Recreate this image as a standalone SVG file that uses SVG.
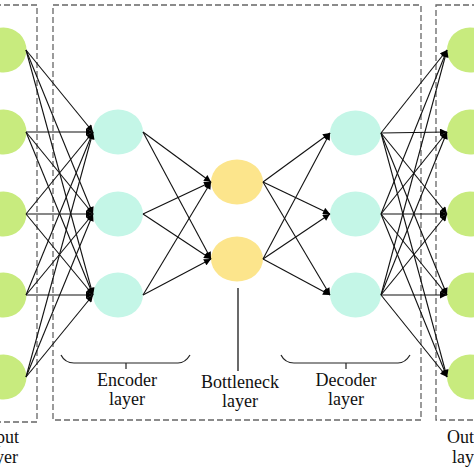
<svg xmlns="http://www.w3.org/2000/svg" width="474" height="474" viewBox="0 0 474 474">
<style>
.box{fill:none;stroke:#666;stroke-width:1.3;stroke-dasharray:6 3}
.in{fill:#c8eb7e}
.mid{fill:#c4f6e7}
.bot{fill:#fce58c}
.c line{stroke:#111;stroke-width:1.1;marker-end:url(#ah)}
.br{fill:none;stroke:#222;stroke-width:1.2}
text{font-family:"Liberation Serif","Times New Roman",serif;font-size:18px;fill:#111;text-anchor:middle}
</style>
<defs>
<marker id="ah" viewBox="0 0 10 10" refX="10" refY="5" markerWidth="8" markerHeight="7" markerUnits="userSpaceOnUse" orient="auto">
<path d="M0,0 L10,5 L0,10 z" fill="#000"/>
</marker>
</defs>
<rect width="474" height="474" fill="#fff"/>
<g id="frames">
<rect class="box" x="-5" y="5" width="42" height="417"/>
<rect class="box" x="53" y="5" width="368" height="415"/>
<rect class="box" x="436" y="5" width="45" height="415"/>
</g>
<g id="input-layer">
<ellipse class="in" cx="3.5" cy="50" rx="23" ry="22.5"/>
<ellipse class="in" cx="3.5" cy="132" rx="23" ry="22.5"/>
<ellipse class="in" cx="3.5" cy="214" rx="23" ry="22.5"/>
<ellipse class="in" cx="3.5" cy="295" rx="23" ry="22.5"/>
<ellipse class="in" cx="3.5" cy="377" rx="23" ry="22.5"/>
<text x="0" y="443">Input</text>
<text x="0" y="463">layer</text>
</g>
<g id="encoder-layer">
<ellipse class="mid" cx="118" cy="132" rx="25" ry="22.5"/>
<ellipse class="mid" cx="118" cy="214" rx="25" ry="22.5"/>
<ellipse class="mid" cx="118" cy="295" rx="25" ry="22.5"/>
<path class="br" d="M61,355 C64,361 68,363 74,363 L178,363 C184,363 187,360 190,355 M126,363 L126,369"/>
<text x="127" y="386">Encoder</text>
<text x="127" y="405">layer</text>
</g>
<g id="bottleneck-layer">
<ellipse class="bot" cx="237" cy="182" rx="26" ry="22.5"/>
<ellipse class="bot" cx="237" cy="259" rx="26" ry="22.5"/>
<line x1="238" y1="288" x2="238" y2="371" stroke="#444" stroke-width="1.6"/>
<text x="240" y="388">Bottleneck</text>
<text x="240" y="407">layer</text>
</g>
<g id="decoder-layer">
<ellipse class="mid" cx="355.5" cy="133" rx="25.5" ry="22.5"/>
<ellipse class="mid" cx="355.5" cy="214" rx="25.5" ry="22.5"/>
<ellipse class="mid" cx="355.5" cy="295" rx="25.5" ry="22.5"/>
<path class="br" d="M281,355 C284,361 288,363 294,363 L398,363 C404,363 407,360 410,355 M346,363 L346,369"/>
<text x="346" y="386">Decoder</text>
<text x="346" y="405">layer</text>
</g>
<g id="output-layer">
<ellipse class="in" cx="470" cy="50" rx="23" ry="22.5"/>
<ellipse class="in" cx="470" cy="132" rx="23" ry="22.5"/>
<ellipse class="in" cx="470" cy="214" rx="23" ry="22.5"/>
<ellipse class="in" cx="470" cy="295" rx="23" ry="22.5"/>
<ellipse class="in" cx="470" cy="377" rx="23" ry="22.5"/>
<text x="472" y="443">Output</text>
<text x="470" y="463">layer</text>
</g>
<g id="connectors" class="c">
<line x1="26" y1="50" x2="93" y2="132"/><line x1="26" y1="50" x2="93" y2="214"/><line x1="26" y1="50" x2="93" y2="295"/>
<line x1="26" y1="132" x2="93" y2="132"/><line x1="26" y1="132" x2="93" y2="214"/><line x1="26" y1="132" x2="93" y2="295"/>
<line x1="26" y1="214" x2="93" y2="132"/><line x1="26" y1="214" x2="93" y2="214"/><line x1="26" y1="214" x2="93" y2="295"/>
<line x1="26" y1="295" x2="93" y2="132"/><line x1="26" y1="295" x2="93" y2="214"/><line x1="26" y1="295" x2="93" y2="295"/>
<line x1="26" y1="377" x2="93" y2="132"/><line x1="26" y1="377" x2="93" y2="214"/><line x1="26" y1="377" x2="93" y2="295"/>
<line x1="143" y1="132" x2="211" y2="182"/><line x1="143" y1="132" x2="211" y2="259"/>
<line x1="143" y1="214" x2="211" y2="182"/><line x1="143" y1="214" x2="211" y2="259"/>
<line x1="143" y1="295" x2="211" y2="182"/><line x1="143" y1="295" x2="211" y2="259"/>
<line x1="263" y1="182" x2="330" y2="133"/><line x1="263" y1="182" x2="330" y2="214"/><line x1="263" y1="182" x2="330" y2="295"/>
<line x1="263" y1="259" x2="330" y2="133"/><line x1="263" y1="259" x2="330" y2="214"/><line x1="263" y1="259" x2="330" y2="295"/>
<line x1="381" y1="133" x2="447" y2="50"/><line x1="381" y1="133" x2="447" y2="132"/><line x1="381" y1="133" x2="447" y2="214"/><line x1="381" y1="133" x2="447" y2="295"/><line x1="381" y1="133" x2="447" y2="377"/>
<line x1="381" y1="214" x2="447" y2="50"/><line x1="381" y1="214" x2="447" y2="132"/><line x1="381" y1="214" x2="447" y2="214"/><line x1="381" y1="214" x2="447" y2="295"/><line x1="381" y1="214" x2="447" y2="377"/>
<line x1="381" y1="295" x2="447" y2="50"/><line x1="381" y1="295" x2="447" y2="132"/><line x1="381" y1="295" x2="447" y2="214"/><line x1="381" y1="295" x2="447" y2="295"/><line x1="381" y1="295" x2="447" y2="377"/>
</g>
</svg>
